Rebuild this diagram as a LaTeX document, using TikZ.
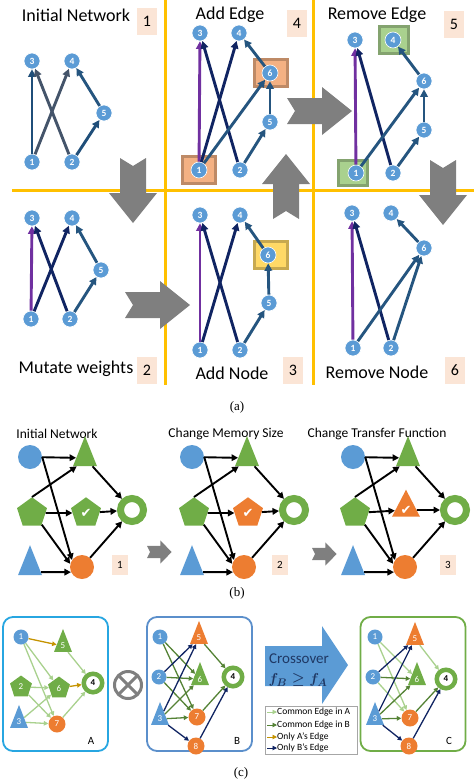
\documentclass[tikz,border=0pt]{standalone}
\usepackage{amsmath,amssymb}
\usepackage{fontspec}
\setmainfont{Carlito}
\newfontfamily\capfont{Liberation Serif}
\newfontfamily\symfont{DejaVu Sans}
\usetikzlibrary{positioning,arrows.meta,shapes.geometric,calc}
\definecolor{nodeblue}{HTML}{5B9BD5}
\definecolor{nodeorange}{HTML}{ED7D31}
\definecolor{nodegreen}{HTML}{70AD47}
\definecolor{edgepurple}{HTML}{7030A0}
\definecolor{edgenavy}{HTML}{102462}
\definecolor{edgesteel}{HTML}{25557F}
\definecolor{edgedeep}{HTML}{1F4E79}
\definecolor{edgeslate}{HTML}{44546A}
\definecolor{divyellow}{HTML}{FFC000}
\definecolor{arrowgray}{HTML}{7F7F7F}
\definecolor{tagpeach}{HTML}{FBE5D6}
\definecolor{boxsalmon}{HTML}{F4B183}
\definecolor{boxyellow}{HTML}{FFD966}
\definecolor{boxgreen}{HTML}{A9D18E}
\definecolor{lightgreen}{HTML}{A9D18E}
\definecolor{darkgreen}{HTML}{548235}
\definecolor{onlygold}{HTML}{C59300}
\definecolor{frameA}{HTML}{27A6E1}
\definecolor{frameB}{HTML}{5B8FCB}
\definecolor{xovertext}{HTML}{1F3864}
\tikzset{
  % (a) mutation panels
  ga node/.style={circle,fill=nodeblue,draw=white,line width=0.6pt,minimum size=16pt,
    inner sep=0pt,text=white,font=\fontsize{9.5}{10}\selectfont\bfseries},
  ga edge/.style={-{Triangle[length=7.5pt,width=7.5pt]},line width=2.9pt},
  ga title/.style={font=\fontsize{18}{20}\selectfont,inner sep=0pt},
  ga tag/.style={fill=tagpeach,minimum width=20pt,minimum height=27pt,inner sep=0pt,
    font=\fontsize{16}{18}\selectfont},
  ga bevel/.style={minimum width=36pt,minimum height=30pt,inner sep=0pt,fill=#1!78!black,
    path picture={\fill[#1] ([shift={(3pt,-3pt)}]path picture bounding box.north west)
      rectangle ([shift={(-3pt,3pt)}]path picture bounding box.south east);}},
  ga divider/.style={draw=divyellow,line width=3pt},
  pics/block arrow/.style={code={\fill[arrowgray] (0,-13) -- (35,-13) -- (35,-24) --
    (65,0) -- (35,24) -- (35,13) -- (0,13) -- (8,0) -- cycle;}},
  % (b) node-type panels
  gb circ/.style={circle,minimum size=24pt,inner sep=0pt},
  gb tri/.style={isosceles triangle,isosceles triangle stretches,shape border rotate=90,
    minimum width=24pt,minimum height=30pt,inner sep=0pt},
  gb pent/.style={regular polygon,regular polygon sides=5,minimum size=31.5pt,inner sep=0pt},
  gb ring/.style={circle,draw=nodegreen,line width=7pt,fill=white,minimum size=23pt,inner sep=0pt},
  gb edge/.style={-{Triangle[length=6.5pt,width=6.5pt]},line width=1.9pt,black},
  gb title/.style={font=\fontsize{13.5}{15}\selectfont,inner sep=0pt},
  gb tag/.style={fill=tagpeach,minimum width=16pt,minimum height=20pt,inner sep=0pt,
    font=\fontsize{11}{12}\selectfont},
  gb check/.style={text=white,font=\symfont\fontsize{13}{13}\selectfont},
  % (c) crossover panels
  gc circ/.style={circle,minimum size=15pt,inner sep=0pt,text=white,font=\fontsize{9}{9}\selectfont},
  gc big/.style={gc circ,minimum size=17pt},
  gc tri/.style={isosceles triangle,isosceles triangle stretches,shape border rotate=90,
    minimum width=18pt,minimum height=23pt,inner sep=0pt,text=white,font=\fontsize{9}{9}\selectfont},
  gc pent/.style={regular polygon,regular polygon sides=5,minimum size=23pt,inner sep=0pt,
    text=white,font=\fontsize{9}{9}\selectfont},
  gc ring/.style={circle,draw=nodegreen,line width=4.5pt,fill=white,minimum size=18.5pt,
    inner sep=0pt,font=\fontsize{9}{9}\selectfont\bfseries},
  gc frame/.style={rounded corners=10pt,line width=1.8pt,minimum width=105pt,minimum height=134pt},
  gc edge/.style={-{Triangle[length=4.5pt,width=4.5pt]},line width=1.3pt},
  gc legend/.style={font=\fontsize{9.5}{10}\selectfont,inner sep=0pt,anchor=west},
  otimes/.style={circle,draw=arrowgray,line width=3pt,minimum size=27pt,inner sep=0pt,
    path picture={\draw[arrowgray,line width=3pt]
      (path picture bounding box.north west) -- (path picture bounding box.south east)
      (path picture bounding box.north east) -- (path picture bounding box.south west);}},
  caption/.style={font=\capfont\fontsize{13}{14}\selectfont,inner sep=0pt}
}
\begin{document}
\begin{tikzpicture}[x=1pt,y=-1pt]
  \useasboundingbox (0,0) rectangle (474,782);

  % ---------- (a) ----------
  \draw[ga divider] (12,190) -- (474,190);
  \draw[ga divider] (165,0) -- (165,385);
  \draw[ga divider] (313,0) -- (313,385);

  % Initial network
  \node[ga title] (t1) at (76,15) {Initial Network};
  \node[ga tag] (g1) at (147,21) {1};
  \node[ga node] (p1n3) at (32,61) {3};
  \node[ga node] (p1n4) at (72,61) {4};
  \node[ga node] (p1n5) at (104,113) {5};
  \node[ga node] (p1n1) at (32,162) {1};
  \node[ga node] (p1n2) at (72,162) {2};
  \draw[ga edge,edgedeep] (p1n1) -- (p1n3);
  \draw[ga edge,edgeslate] (p1n1) -- (p1n4);
  \draw[ga edge,edgeslate] (p1n2) -- (p1n3);
  \draw[ga edge,edgedeep] (p1n2) -- (p1n5);
  \draw[ga edge,edgesteel] (p1n5) -- (p1n4);

  % Mutate weights
  \node[ga title] (t2) at (76,369) {Mutate weights};
  \node[ga tag] (g2) at (147,370) {2};
  \node[ga node] (p2n3) at (32,218) {3};
  \node[ga node] (p2n4) at (72,218) {4};
  \node[ga node] (p2n5) at (101,270) {5};
  \node[ga node] (p2n1) at (31,319) {1};
  \node[ga node] (p2n2) at (70,319) {2};
  \draw[ga edge,edgepurple] (p2n1) -- (p2n3);
  \draw[ga edge,edgenavy] (p2n1) -- (p2n4);
  \draw[ga edge,edgenavy] (p2n2) -- (p2n3);
  \draw[ga edge,edgesteel] (p2n2) -- (p2n5);
  \draw[ga edge,edgesteel] (p2n5) -- (p2n4);

  % Add node
  \node[ga title] (t3) at (232,373) {Add Node};
  \node[ga tag] (g3) at (293,370) {3};
  \node[ga bevel=boxyellow] (hl3) at (271,255) {};
  \node[ga node] (p3n3) at (200,215) {3};
  \node[ga node] (p3n4) at (240,215) {4};
  \node[ga node] (p3n6) at (268,255) {6};
  \node[ga node] (p3n5) at (269,303) {5};
  \node[ga node] (p3n1) at (200,350) {1};
  \node[ga node] (p3n2) at (240,350) {2};
  \draw[ga edge,edgepurple] (p3n1) -- (p3n3);
  \draw[ga edge,edgenavy] (p3n1) -- (p3n4);
  \draw[ga edge,edgenavy] (p3n2) -- (p3n3);
  \draw[ga edge,edgesteel] (p3n2) -- (p3n5);
  \draw[ga edge,edgesteel] (p3n5) -- (p3n6);
  \draw[ga edge,edgesteel] (p3n6) -- (p3n4);

  % Add edge
  \node[ga title] (t4) at (230,15) {Add Edge};
  \node[ga tag] (g4) at (297,23) {4};
  \node[ga bevel=boxsalmon] (hl4a) at (271,73) {};
  \node[ga bevel=boxsalmon] (hl4b) at (199,170) {};
  \node[ga node] (p4n3) at (200,33) {3};
  \node[ga node] (p4n4) at (239,33) {4};
  \node[ga node] (p4n6) at (270,73) {6};
  \node[ga node] (p4n5) at (270,122) {5};
  \node[ga node] (p4n1) at (199,170) {1};
  \node[ga node] (p4n2) at (240,170) {2};
  \draw[ga edge,edgepurple] (p4n1) -- (p4n3);
  \draw[ga edge,edgenavy] (p4n1) -- (p4n4);
  \draw[ga edge,edgenavy] (p4n2) -- (p4n3);
  \draw[ga edge,edgesteel] (p4n2) -- (p4n5);
  \draw[ga edge,edgesteel] (p4n5) -- (p4n6);
  \draw[ga edge,edgesteel] (p4n6) -- (p4n4);
  \draw[ga edge,edgesteel] (p4n1) -- (p4n6);

  % Remove edge
  \node[ga title] (t5) at (377,15) {Remove Edge};
  \node[ga tag] (g5) at (454,24) {5};
  \node[ga bevel=boxgreen,minimum width=32pt] (hl5a) at (394,40) {};
  \node[ga bevel=boxgreen,minimum width=32pt,minimum height=28pt] (hl5b) at (353,173) {};
  \node[ga node] (p5n3) at (355,40) {3};
  \node[ga node] (p5n4) at (393,40) {4};
  \node[ga node] (p5n6) at (424,81) {6};
  \node[ga node] (p5n5) at (424,130) {5};
  \node[ga node] (p5n1) at (356,173) {1};
  \node[ga node] (p5n2) at (393,173) {2};
  \draw[ga edge,edgepurple] (p5n1) -- (p5n3);
  \draw[ga edge,edgenavy] (p5n2) -- (p5n3);
  \draw[ga edge,edgesteel] (p5n2) -- (p5n5);
  \draw[ga edge,edgesteel] (p5n5) -- (p5n6);
  \draw[ga edge,edgesteel] (p5n6) -- (p5n4);
  \draw[ga edge,edgesteel] (p5n1) -- (p5n6);

  % Remove node
  \node[ga title] (t6) at (377,372) {Remove Node};
  \node[ga tag] (g6) at (455,370) {6};
  \node[ga node] (p6n3) at (352,213) {3};
  \node[ga node] (p6n4) at (391,213) {4};
  \node[ga node] (p6n6) at (424,248) {6};
  \node[ga node] (p6n1) at (353,348) {1};
  \node[ga node] (p6n2) at (391,348) {2};
  \draw[ga edge,edgepurple] (p6n1) -- (p6n3);
  \draw[ga edge,edgenavy] (p6n2) -- (p6n3);
  \draw[ga edge,edgesteel] (p6n1) -- (p6n6);
  \draw[ga edge,edgesteel] (p6n2) -- (p6n6);
  \draw[ga edge,edgesteel] (p6n6) -- (p6n4);

  % flow between the panels
  \pic[rotate=-90] at (133,158) {block arrow};
  \pic at (125,305) {block arrow};
  \pic[rotate=90] at (286,219) {block arrow};
  \pic at (287,111) {block arrow};
  \pic[rotate=-90] at (443,160) {block arrow};

  \node[caption] (capa) at (237,407) {(a)};

  % ---------- (b) ----------
  \node[gb title] (bt1) at (57,434) {Initial Network};
  \node[gb circ,fill=nodeblue] (b1in) at (30,457) {};
  \node[gb tri,fill=nodegreen] (b1tri) at (85,458) {};
  \node[gb pent,fill=nodegreen] (b1pen) at (32,513) {};
  \node[gb pent,fill=nodegreen,gb check] (b1mid) at (86,513) {✔};
  \node[gb ring] (b1out) at (132,510) {};
  \node[gb tri,fill=nodeblue] (b1bias) at (30,567) {};
  \node[gb circ,fill=nodeorange] (b1mem) at (82,567) {};
  \node[gb tag] (b1tag) at (120,565) {1};
  \draw[gb edge] (b1in) -- (b1tri);
  \draw[gb edge] (b1in.east) -- (b1mem.145);
  \draw[gb edge] (b1pen.corner 1) -- (b1tri.225);
  \draw[gb edge] (b1pen) -- (b1mid);
  \draw[gb edge] (b1pen.-50) -- (b1mem.165);
  \draw[gb edge] (b1tri) -- (b1out);
  \draw[gb edge] (b1mid) -- (b1out);
  \draw[gb edge] (b1mem) -- (b1out);
  \draw[gb edge] (b1bias.-25) -- (b1mem.205);

  \node[gb title] (bt2) at (226,434) {Change Memory Size};
  \node[gb circ,fill=nodeblue] (b2in) at (192,457) {};
  \node[gb tri,fill=nodegreen] (b2tri) at (247,458) {};
  \node[gb pent,fill=nodegreen] (b2pen) at (194,513) {};
  \node[gb pent,fill=nodeorange,gb check] (b2mid) at (248,513) {✔};
  \node[gb ring] (b2out) at (294,510) {};
  \node[gb tri,fill=nodeblue] (b2bias) at (192,567) {};
  \node[gb circ,fill=nodeorange] (b2mem) at (244,567) {};
  \node[gb tag] (b2tag) at (280,565) {2};
  \draw[gb edge] (b2in) -- (b2tri);
  \draw[gb edge] (b2in.east) -- (b2mem.145);
  \draw[gb edge] (b2pen.corner 1) -- (b2tri.225);
  \draw[gb edge] (b2pen) -- (b2mid);
  \draw[gb edge] (b2pen.-50) -- (b2mem.165);
  \draw[gb edge] (b2tri) -- (b2out);
  \draw[gb edge] (b2mid) -- (b2out);
  \draw[gb edge] (b2mem) -- (b2out);
  \draw[gb edge] (b2bias.-25) -- (b2mem.205);

  \node[gb title] (bt3) at (377,434) {Change Transfer Function};
  \node[gb circ,fill=nodeblue] (b3in) at (353,457) {};
  \node[gb tri,fill=nodegreen] (b3tri) at (408,458) {};
  \node[gb pent,fill=nodegreen] (b3pen) at (355,513) {};
  \node[gb tri,fill=nodeorange,minimum width=28pt,minimum height=27pt,gb check] (b3mid) at (406,510) {✔};
  \node[gb ring] (b3out) at (455,510) {};
  \node[gb tri,fill=nodeblue] (b3bias) at (353,567) {};
  \node[gb circ,fill=nodeorange] (b3mem) at (405,567) {};
  \node[gb tag] (b3tag) at (448,565) {3};
  \draw[gb edge] (b3in) -- (b3tri);
  \draw[gb edge] (b3in.east) -- (b3mem.145);
  \draw[gb edge] (b3pen.corner 1) -- (b3tri.225);
  \draw[gb edge] (b3pen) -- (b3mid);
  \draw[gb edge] (b3pen.-50) -- (b3mem.165);
  \draw[gb edge] (b3tri) -- (b3out);
  \draw[gb edge] (b3mid) -- (b3out);
  \draw[gb edge] (b3mem) -- (b3out);
  \draw[gb edge] (b3bias.-25) -- (b3mem.205);

  \pic[xscale=0.38,yscale=0.48] at (147,552) {block arrow};
  \pic[xscale=0.38,yscale=0.48] at (312,554) {block arrow};

  \node[caption] (capb) at (237,593) {(b)};

  % ---------- (c) ----------
  \node[gc frame,draw=frameA] (frA) at (55.5,684) {};
  \node[font=\fontsize{11}{12}\selectfont] (labA) at (91,741) {A};
  \node[gc circ,fill=nodeblue] (a1) at (21,637) {1};
  \node[gc tri,fill=nodegreen] (a5) at (63,646) {5};
  \node[gc pent,fill=nodegreen] (a2) at (21,687) {2};
  \node[gc pent,fill=nodegreen] (a6) at (59,688) {6};
  \node[gc ring] (a4) at (93,683) {4};
  \node[gc tri,fill=nodeblue] (a3) at (19,722) {3};
  \node[gc big,fill=nodeorange] (a7) at (57,724) {7};
  \draw[gc edge,onlygold] (a1) -- (a5);
  \draw[gc edge,onlygold] (a6) -- (a4);
  \draw[gc edge,lightgreen] (a1) -- (a6);
  \draw[gc edge,lightgreen] (a1) -- (a7);
  \draw[gc edge,lightgreen] (a2) -- (a6);
  \draw[gc edge,lightgreen] (a2) -- (a7);
  \draw[gc edge,lightgreen] (a3) -- (a6);
  \draw[gc edge,lightgreen] (a3) -- (a7);
  \draw[gc edge,lightgreen] (a5) -- (a4);
  \draw[gc edge,lightgreen] (a7) -- (a4);

  \node[otimes] (cross) at (128,685) {};

  \node[gc frame,draw=frameB] (frB) at (199.5,684) {};
  \node[font=\fontsize{11}{12}\selectfont] (labB) at (237,741) {B};
  \node[gc circ,fill=nodeblue] (b1) at (160,637) {1};
  \node[gc tri,fill=nodeorange] (b5) at (199,638) {5};
  \node[gc circ,fill=nodeblue] (b2) at (159,677) {2};
  \node[gc tri,fill=nodegreen] (b6) at (200,679) {6};
  \node[gc ring] (b4) at (233,677) {4};
  \node[gc tri,fill=nodeblue] (b3) at (160,719) {3};
  \node[gc big,fill=nodeorange] (b7) at (197,717) {7};
  \node[gc big,fill=nodeorange] (b8) at (196,746) {8};
  \draw[gc edge,darkgreen] (b1) -- (b6);
  \draw[gc edge,darkgreen] (b1) -- (b7);
  \draw[gc edge,darkgreen] (b2) -- (b6);
  \draw[gc edge,darkgreen] (b2) -- (b7);
  \draw[gc edge,darkgreen] (b3) -- (b6);
  \draw[gc edge,darkgreen] (b3) -- (b7);
  \draw[gc edge,darkgreen] (b5) -- (b4);
  \draw[gc edge,darkgreen] (b7) -- (b4);
  \draw[gc edge,edgenavy] (b2) -- (b5);
  \draw[gc edge,edgenavy] (b3) -- (b5);
  \draw[gc edge,edgenavy] (b3) -- (b8);
  \draw[gc edge,edgenavy] (b8) -- (b4);

  % crossover arrow and legend
  \fill[nodeblue] (265,646) -- (322,646) -- (322,626) -- (348,665) -- (322,704)
    -- (322,686) -- (265,686) -- cycle;
  \node[text=xovertext,font=\fontsize{15}{16}\selectfont,inner sep=0pt] (xover) at (299,659) {Crossover};
  \node[text=xovertext,font=\fontsize{15}{16}\selectfont,inner sep=0pt] (xrule) at (298,680)
    {$\boldsymbol{f_B \geq f_A}$};

  \node[draw=black!35,line width=0.6pt,fill=white,minimum width=92pt,minimum height=48pt,
    inner sep=0pt] (legend) at (311,730) {};
  \node[gc legend] (lg1) at (277,712) {Common Edge in A};
  \node[gc legend] (lg2) at (277,725) {Common Edge in B};
  \node[gc legend] (lg3) at (277,737) {Only A's Edge};
  \node[gc legend] (lg4) at (277,748) {Only B's Edge};
  \coordinate (lg1s) at (267,712);
  \coordinate (lg2s) at (267,725);
  \coordinate (lg3s) at (267,737);
  \coordinate (lg4s) at (267,748);
  \draw[gc edge,lightgreen,line width=0.9pt] (lg1s) -- (lg1.west);
  \draw[gc edge,darkgreen,line width=0.9pt] (lg2s) -- (lg2.west);
  \draw[gc edge,onlygold,line width=0.9pt] (lg3s) -- (lg3.west);
  \draw[gc edge,edgenavy,line width=0.9pt] (lg4s) -- (lg4.west);

  \node[gc frame,draw=nodegreen] (frC) at (413,684) {};
  \node[font=\fontsize{11}{12}\selectfont] (labC) at (449,741) {C};
  \node[gc circ,fill=nodeblue] (c1) at (375,637) {1};
  \node[gc tri,fill=nodeorange] (c5) at (415,639) {5};
  \node[gc circ,fill=nodeblue] (c2) at (373,677) {2};
  \node[gc tri,fill=nodegreen] (c6) at (417,679) {6};
  \node[gc ring] (c4) at (446,679) {4};
  \node[gc tri,fill=nodeblue] (c3) at (375,719) {3};
  \node[gc big,fill=nodeorange] (c7) at (410,718) {7};
  \node[gc big,fill=nodeorange] (c8) at (409,746) {8};
  \draw[gc edge,lightgreen] (c1) -- (c6);
  \draw[gc edge,lightgreen] (c1) -- (c7);
  \draw[gc edge,lightgreen] (c2) -- (c7);
  \draw[gc edge,lightgreen] (c5) -- (c4);
  \draw[gc edge,darkgreen] (c2) -- (c6);
  \draw[gc edge,darkgreen] (c3) -- (c6);
  \draw[gc edge,darkgreen] (c3) -- (c7);
  \draw[gc edge,darkgreen] (c7) -- (c4);
  \draw[gc edge,edgenavy] (c2) -- (c5);
  \draw[gc edge,edgenavy] (c3) -- (c5);
  \draw[gc edge,edgenavy] (c3) -- (c8);
  \draw[gc edge,edgenavy] (c8) -- (c4);

  \node[caption] (capc) at (241,773) {(c)};
\end{tikzpicture}
\end{document}
